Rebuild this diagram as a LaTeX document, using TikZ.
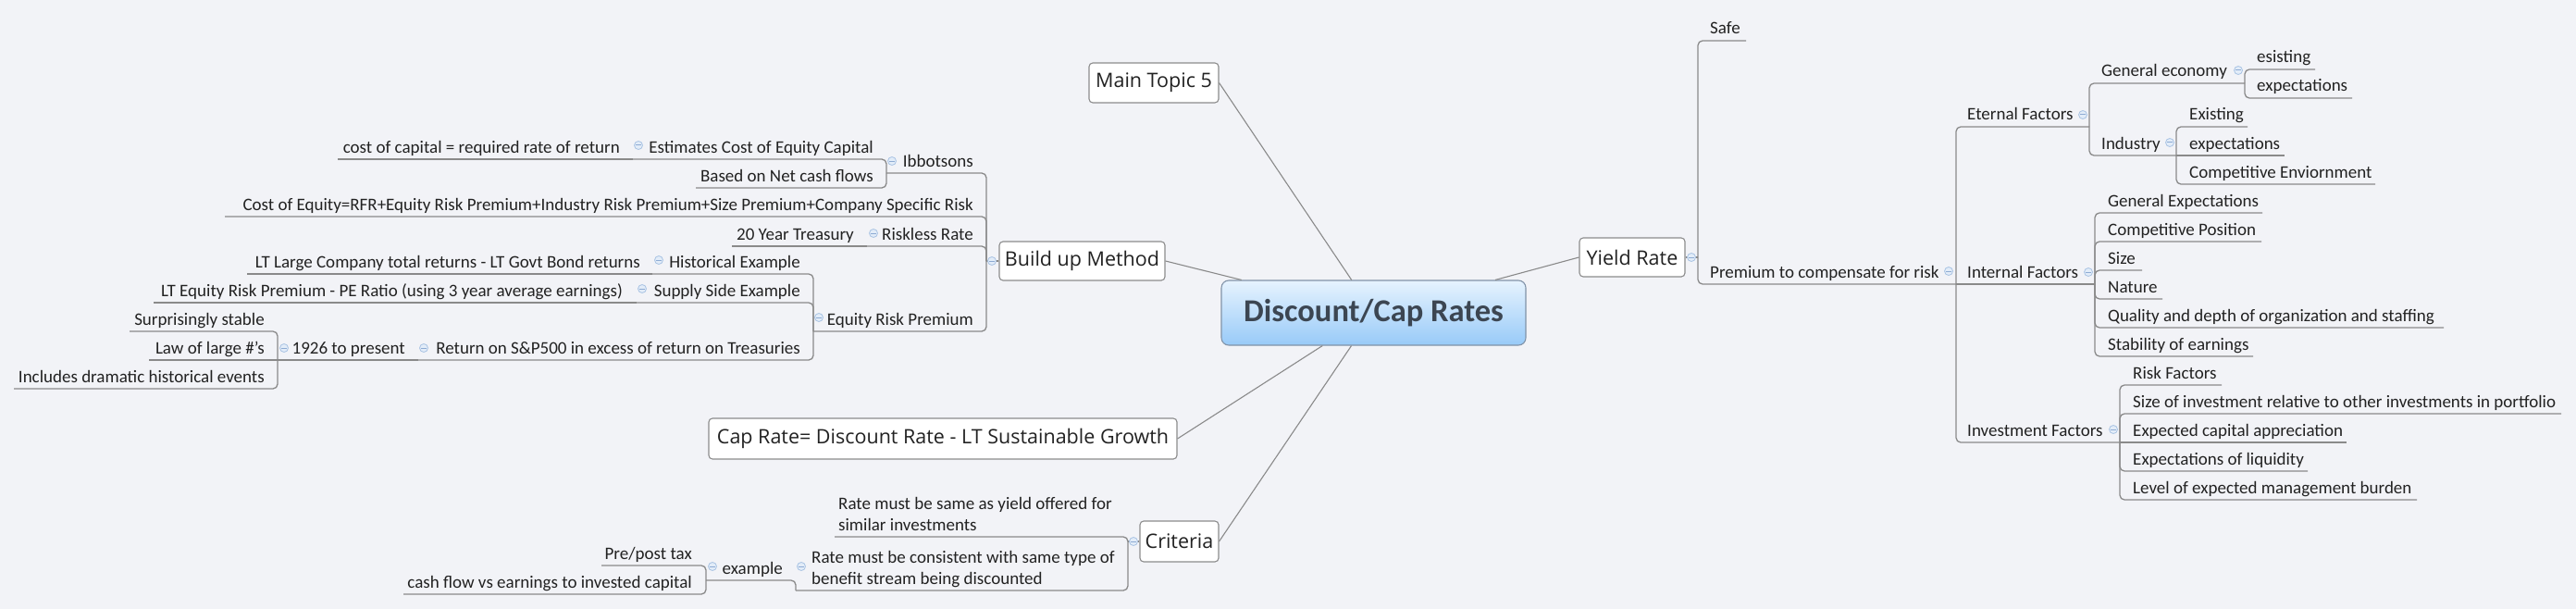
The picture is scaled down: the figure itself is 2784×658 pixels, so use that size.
\documentclass[tikz,border=0pt]{standalone}
\usepackage{fontspec}
\setmainfont{Carlito}
\newfontfamily\mtfam{Open Sans}
\newfontfamily\cfam{Carlito}
\definecolor{bgcol}{HTML}{F2F3F7}
\definecolor{lncol}{HTML}{8A8A8A}
\definecolor{bdcol}{HTML}{8C8C8C}
\definecolor{txtcol}{HTML}{222222}
\definecolor{ctxt}{HTML}{3C4652}
\definecolor{ctop}{HTML}{E6F3FE}
\definecolor{cbot}{HTML}{98CAF8}
\definecolor{cbd}{HTML}{8193A8}
\definecolor{collf}{HTML}{E2ECF8}
\definecolor{collb}{HTML}{A9C3E3}
\definecolor{collm}{HTML}{8EABD3}
\newcommand\subfont{\fontsize{19}{23}\selectfont}
\newcommand\mtfont{\mtfam\fontsize{21.5}{26}\selectfont}
\newcommand\rsub[5]{\node[sub, anchor=base west] (#1) at (#2,#3-7) {#5};\coordinate (#1-u) at (#4,#3);}
\newcommand\lsub[5]{\node[sub, anchor=base east] (#1) at (#2,#3-7) {#5};\coordinate (#1-u) at (#4,#3);}
\newcommand\coll[3]{\node[coll] (c-#1) at (#2,#3) {};}
\tikzset{
  sub/.style={inner sep=0pt, font=\subfont, text=txtcol},
  br/.style={draw=lncol, line width=1.3pt, rounded corners=5pt},
  mainln/.style={draw=lncol, line width=1.1pt},
  mtopic/.style={draw=bdcol, fill=white, rounded corners=4pt, line width=1.1pt, font=\mtfont, text=txtcol, inner sep=0pt},
  coll/.style={circle, draw=collb, fill=collf, line width=0.8pt, minimum size=9pt, inner sep=0pt,
    path picture={\draw[draw=collm, line width=1pt] ([xshift=-2.6pt]path picture bounding box.center) -- ([xshift=2.6pt]path picture bounding box.center);}}
}
\begin{document}
\begin{tikzpicture}[x=1pt, y=-1pt]
\useasboundingbox (0,0) rectangle (2784,658);
\fill[bgcol] (0,0) rectangle (2784,658);

% main topics
\node[draw=cbd, top color=ctop, bottom color=cbot, rounded corners=8pt, line width=1.1pt,
  minimum width=329pt, minimum height=70pt, inner sep=0pt, text=ctxt,
  font=\cfam\bfseries\fontsize{34.5}{40}\selectfont] (central) at (1484.5,338) {Discount/Cap Rates};
\node[mtopic, minimum width=140pt, minimum height=43pt] (mt5) at (1247,89.5) {Main Topic 5};
\node[mtopic, minimum width=179pt, minimum height=42pt] (bum) at (1169.5,282) {Build up Method};
\node[mtopic, minimum width=114pt, minimum height=42pt] (yield) at (1764,278) {Yield Rate};
\node[mtopic, minimum width=506pt, minimum height=44pt] (caprate) at (1019,474) {Cap Rate= Discount Rate - LT Sustainable Growth};
\node[mtopic, minimum width=85pt, minimum height=44pt] (crit) at (1274.5,585) {Criteria};

\draw[mainln] (mt5.east) -- (central);
\draw[mainln] (bum.east) -- (central);
\draw[mainln] (yield.west) -- (central);
\draw[mainln] (caprate.east) -- (central);
\draw[mainln] (crit.east) -- (central);

% ---------- right side: Yield Rate ----------
\coordinate (yield-j) at (1835,278);
\rsub{safe}{1848}{44}{1887}{Safe}
\rsub{prem}{1848}{307}{2114}{Premium to compensate for risk}
\rsub{etern}{2126}{137}{2258}{Eternal Factors}
\rsub{intern}{2126}{307}{2264}{Internal Factors}
\rsub{invest}{2126}{478}{2291}{Investment Factors}
\rsub{geco}{2271}{90}{2426}{General economy}
\rsub{indus}{2271}{168}{2352}{Industry}
\rsub{esist}{2439}{75}{2502}{esisting}
\rsub{gexp}{2439}{106}{2542}{expectations}
\rsub{exist}{2366}{137}{2429}{Existing}
\rsub{iexp}{2366}{168}{2469}{expectations}
\rsub{compenv}{2366}{199}{2567}{Competitive Enviornment}
\rsub{genexp}{2278}{230}{2445}{General Expectations}
\rsub{comppos}{2278}{261}{2444}{Competitive Position}
\rsub{size}{2278}{292}{2315}{Size}
\rsub{nature}{2278}{323}{2337}{Nature}
\rsub{quality}{2278}{354}{2641}{Quality and depth of organization and staffing}
\rsub{stab}{2278}{385}{2435}{Stability of earnings}
\rsub{riskf}{2305}{416}{2401}{Risk Factors}
\rsub{sizeinv}{2305}{447}{2768}{Size of investment relative to other investments in portfolio}
\rsub{expcap}{2305}{478}{2536}{Expected capital appreciation}
\rsub{expliq}{2305}{509}{2494}{Expectations of liquidity}
\rsub{level}{2305}{540}{2612}{Level of expected management burden}

\draw[br] (yield.east) -- (yield-j);
\draw[br] (yield-j) |- (safe-u);
\draw[br] (yield-j) |- (prem-u);
\draw[br] (prem-u) |- (etern-u);
\draw[br] (prem-u) -- (intern-u);
\draw[br] (prem-u) |- (invest-u);
\draw[br] (etern-u) |- (geco-u);
\draw[br] (etern-u) |- (indus-u);
\draw[br] (geco-u) |- (esist-u);
\draw[br] (geco-u) |- (gexp-u);
\draw[br] (indus-u) |- (exist-u);
\draw[br] (indus-u) -- (iexp-u);
\draw[br] (indus-u) |- (compenv-u);
\foreach \c in {genexp,comppos,size,nature,quality,stab}{\draw[br] (intern-u) |- (\c-u);}
\foreach \c in {riskf,sizeinv,expliq,level}{\draw[br] (invest-u) |- (\c-u);}
\draw[br] (invest-u) -- (expcap-u);

\coll{yield}{1828}{278}
\coll{prem}{2106}{293}
\coll{etern}{2251}{124}
\coll{intern}{2257}{294}
\coll{invest}{2284}{464}
\coll{geco}{2419}{76}
\coll{indus}{2345}{154}

% ---------- left side: Build up Method ----------
\coordinate (bum-j) at (1066,282);
\lsub{ibb}{1052}{187}{958}{Ibbotsons}
\lsub{coe}{1052}{234}{243}{Cost of Equity=RFR+Equity Risk Premium+Industry Risk Premium+Size Premium+Company Specific Risk}
\lsub{risk}{1052}{266}{937}{Riskless Rate}
\lsub{erp}{1052}{358}{879}{Equity Risk Premium}
\lsub{est}{944}{172}{684}{Estimates Cost of Equity Capital}
\lsub{net}{944}{203}{752}{Based on Net cash flows}
\lsub{coc}{670}{172}{365}{cost of capital = required rate of return}
\lsub{tyt}{923}{266}{791}{20 Year Treasury}
\lsub{hist}{865}{296}{705}{Historical Example}
\lsub{supply}{865}{327}{688}{Supply Side Example}
\lsub{ret}{865}{389}{452}{Return on S\&P500 in excess of return on Treasuries}
\lsub{ltlarge}{692}{296}{267}{LT Large Company total returns - LT Govt Bond returns}
\lsub{lteq}{673}{327}{166}{LT Equity Risk Premium - PE Ratio (using 3 year average earnings)}
\lsub{yr}{438}{389}{300}{1926 to present}
\lsub{stable}{286}{358}{140}{Surprisingly stable}
\lsub{law}{286}{389}{161}{Law of large \#'s}
\lsub{incl}{286}{420}{15}{Includes dramatic historical events}

\draw[br] (bum.west) -- (bum-j);
\foreach \c in {ibb,coe,risk,erp}{\draw[br] (bum-j) |- (\c-u);}
\draw[br] (ibb-u) |- (est-u);
\draw[br] (ibb-u) |- (net-u);
\draw[br] (est-u) -- (coc-u);
\draw[br] (risk-u) -- (tyt-u);
\draw[br] (erp-u) |- (hist-u);
\draw[br] (erp-u) |- (supply-u);
\draw[br] (erp-u) |- (ret-u);
\draw[br] (hist-u) -- (ltlarge-u);
\draw[br] (supply-u) -- (lteq-u);
\draw[br] (ret-u) -- (yr-u);
\draw[br] (yr-u) |- (stable-u);
\draw[br] (yr-u) -- (law-u);
\draw[br] (yr-u) |- (incl-u);

\coll{bum}{1072}{282}
\coll{ibb}{964}{174}
\coll{risk}{944}{252}
\coll{erp}{885}{343}
\coll{est}{690}{157}
\coll{hist}{712}{281}
\coll{supply}{694}{312}
\coll{ret}{458}{376}
\coll{yr}{307}{376}

% ---------- Criteria ----------
\coordinate (crit-j) at (1219,585);
\node[sub, anchor=base west] (same) at (906,550) {\vtop{\hbox{Rate must be same as yield offered for}\hbox{similar investments}}};
\coordinate (same-u) at (902,580);
\node[sub, anchor=base west] (consist) at (877,608) {\vtop{\hbox{Rate must be consistent with same type of}\hbox{benefit stream being discounted}}};
\coordinate (consist-u) at (860,638);
\lsub{example}{846}{627}{763}{example}
\lsub{pre}{748}{611}{650}{Pre/post tax}
\lsub{cash}{748}{642}{436}{cash flow vs earnings to invested capital}

\draw[br] (crit.west) -- (crit-j);
\draw[br] (crit-j) |- (same-u);
\draw[br] (crit-j) |- (consist-u);
\draw[br] (consist-u) |- (example-u);
\draw[br] (example-u) |- (pre-u);
\draw[br] (example-u) |- (cash-u);

\coll{crit}{1225}{585}
\coll{consist}{866}{612}
\coll{example}{770}{612}
\end{tikzpicture}
\end{document}
